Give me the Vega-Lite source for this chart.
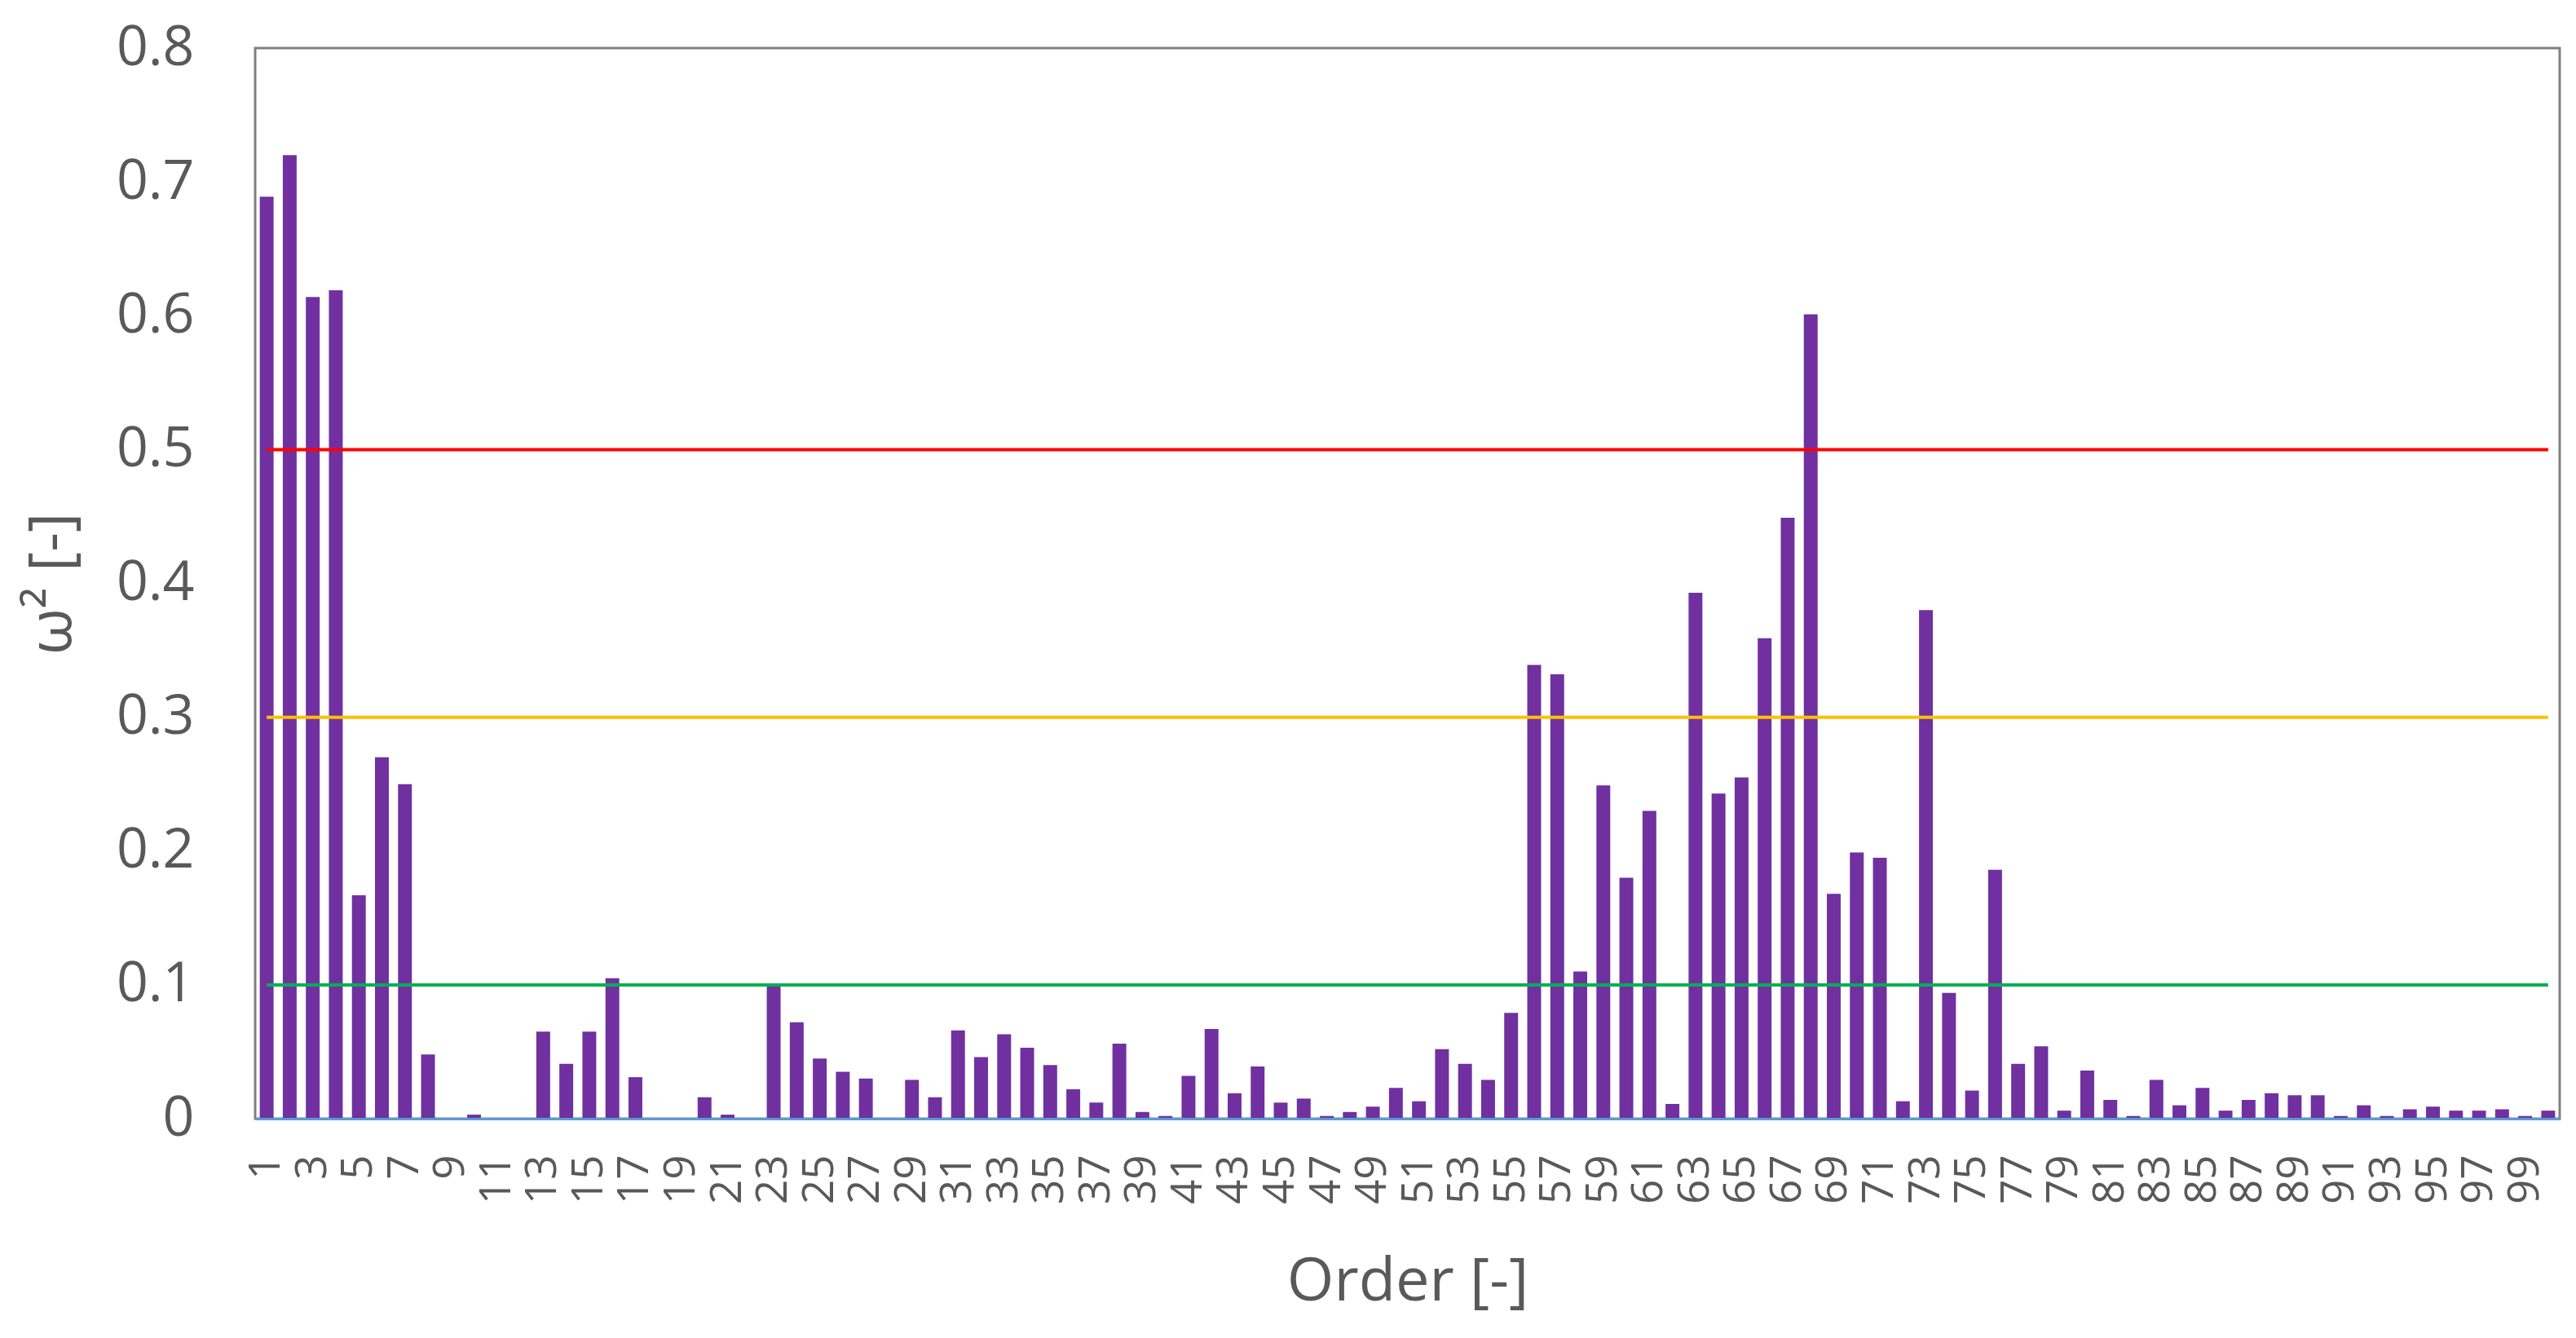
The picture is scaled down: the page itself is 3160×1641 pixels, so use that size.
{
  "$schema": "https://vega.github.io/schema/vega-lite/v6.json",
  "autosize": "none",
  "width": 2827,
  "height": 1313,
  "padding": {"left": 313, "top": 59, "right": 20, "bottom": 269},
  "background": "white",
  "config": {
    "view": {"stroke": "#808080", "strokeWidth": 3},
    "font": "Open Sans"
  },
  "datasets": {
    "bars": [
      {"Order": 1, "w2": 0.689}, {"Order": 2, "w2": 0.72}, {"Order": 3, "w2": 0.614}, {"Order": 4, "w2": 0.619},
      {"Order": 5, "w2": 0.167}, {"Order": 6, "w2": 0.27}, {"Order": 7, "w2": 0.25}, {"Order": 8, "w2": 0.048},
      {"Order": 9, "w2": 0}, {"Order": 10, "w2": 0.003}, {"Order": 11, "w2": 0}, {"Order": 12, "w2": 0},
      {"Order": 13, "w2": 0.065}, {"Order": 14, "w2": 0.041}, {"Order": 15, "w2": 0.065}, {"Order": 16, "w2": 0.105},
      {"Order": 17, "w2": 0.031}, {"Order": 18, "w2": 0}, {"Order": 19, "w2": 0}, {"Order": 20, "w2": 0.016},
      {"Order": 21, "w2": 0.003}, {"Order": 22, "w2": 0}, {"Order": 23, "w2": 0.099}, {"Order": 24, "w2": 0.072},
      {"Order": 25, "w2": 0.045}, {"Order": 26, "w2": 0.035}, {"Order": 27, "w2": 0.03}, {"Order": 28, "w2": 0},
      {"Order": 29, "w2": 0.029}, {"Order": 30, "w2": 0.016}, {"Order": 31, "w2": 0.066}, {"Order": 32, "w2": 0.046},
      {"Order": 33, "w2": 0.063}, {"Order": 34, "w2": 0.053}, {"Order": 35, "w2": 0.04}, {"Order": 36, "w2": 0.022},
      {"Order": 37, "w2": 0.012}, {"Order": 38, "w2": 0.056}, {"Order": 39, "w2": 0.005}, {"Order": 40, "w2": 0.002},
      {"Order": 41, "w2": 0.032}, {"Order": 42, "w2": 0.067}, {"Order": 43, "w2": 0.019}, {"Order": 44, "w2": 0.039},
      {"Order": 45, "w2": 0.012}, {"Order": 46, "w2": 0.015}, {"Order": 47, "w2": 0.002}, {"Order": 48, "w2": 0.005},
      {"Order": 49, "w2": 0.009}, {"Order": 50, "w2": 0.023}, {"Order": 51, "w2": 0.013}, {"Order": 52, "w2": 0.052},
      {"Order": 53, "w2": 0.041}, {"Order": 54, "w2": 0.029}, {"Order": 55, "w2": 0.079}, {"Order": 56, "w2": 0.339},
      {"Order": 57, "w2": 0.332}, {"Order": 58, "w2": 0.11}, {"Order": 59, "w2": 0.249}, {"Order": 60, "w2": 0.18},
      {"Order": 61, "w2": 0.23}, {"Order": 62, "w2": 0.011}, {"Order": 63, "w2": 0.393}, {"Order": 64, "w2": 0.243},
      {"Order": 65, "w2": 0.255}, {"Order": 66, "w2": 0.359}, {"Order": 67, "w2": 0.449}, {"Order": 68, "w2": 0.601},
      {"Order": 69, "w2": 0.168}, {"Order": 70, "w2": 0.199}, {"Order": 71, "w2": 0.195}, {"Order": 72, "w2": 0.013},
      {"Order": 73, "w2": 0.38}, {"Order": 74, "w2": 0.094}, {"Order": 75, "w2": 0.021}, {"Order": 76, "w2": 0.186},
      {"Order": 77, "w2": 0.041}, {"Order": 78, "w2": 0.054}, {"Order": 79, "w2": 0.006}, {"Order": 80, "w2": 0.036},
      {"Order": 81, "w2": 0.014}, {"Order": 82, "w2": 0.002}, {"Order": 83, "w2": 0.029}, {"Order": 84, "w2": 0.01},
      {"Order": 85, "w2": 0.023}, {"Order": 86, "w2": 0.006}, {"Order": 87, "w2": 0.014}, {"Order": 88, "w2": 0.019},
      {"Order": 89, "w2": 0.0175}, {"Order": 90, "w2": 0.0175}, {"Order": 91, "w2": 0.002}, {"Order": 92, "w2": 0.01},
      {"Order": 93, "w2": 0.002}, {"Order": 94, "w2": 0.007}, {"Order": 95, "w2": 0.009}, {"Order": 96, "w2": 0.006},
      {"Order": 97, "w2": 0.006}, {"Order": 98, "w2": 0.007}, {"Order": 99, "w2": 0.002}, {"Order": 100, "w2": 0.006}
    ],
    "limits": [
      {"Order": 1, "level": 0.5, "limit": "0.5"}, {"Order": 100, "level": 0.5, "limit": "0.5"},
      {"Order": 1, "level": 0.3, "limit": "0.3"}, {"Order": 100, "level": 0.3, "limit": "0.3"},
      {"Order": 1, "level": 0.1, "limit": "0.1"}, {"Order": 100, "level": 0.1, "limit": "0.1"}
    ]
  },
  "layer": [
    {
      "data": {"name": "bars"},
      "mark": {"type": "bar", "color": "#7030A0"},
      "encoding": {
        "x": {
          "field": "Order",
          "type": "ordinal",
          "scale": {"paddingInner": 0.4, "paddingOuter": 0.2},
          "axis": {
            "title": "Order [-]",
            "titleFont": "Open Sans",
            "titleFontSize": 74,
            "titleFontWeight": "normal",
            "titleColor": "#595959",
            "titlePadding": 60,
            "labelAngle": -90,
            "labelFontSize": 53,
            "labelColor": "#595959",
            "labelPadding": 44,
            "labelOverlap": false,
            "labelBound": false,
            "labelFlush": false,
            "labelExpr": "datum.value % 2 == 1 ? datum.label : ''",
            "ticks": false,
            "domainColor": "#5B9BD5",
            "domainWidth": 3,
            "zindex": 1
          }
        },
        "y": {
          "field": "w2",
          "type": "quantitative",
          "scale": {"domain": [0, 0.8], "nice": false},
          "axis": {
            "title": "ω² [-]",
            "titleFont": "Open Sans",
            "titleFontSize": 74,
            "titleFontWeight": "normal",
            "titleColor": "#595959",
            "titlePadding": 40,
            "values": [0, 0.1, 0.2, 0.3, 0.4, 0.5, 0.6, 0.7, 0.8],
            "labelExpr": "datum.value == 0 ? '0' : format(datum.value, '.1f')",
            "labelFontSize": 68,
            "labelColor": "#595959",
            "labelPadding": 75,
            "labelBound": false,
            "labelFlush": false,
            "ticks": false,
            "domain": false,
            "grid": false
          }
        }
      }
    },
    {
      "data": {"name": "limits"},
      "mark": {"type": "line", "strokeWidth": 4},
      "encoding": {
        "x": {"field": "Order", "type": "ordinal"},
        "y": {"field": "level", "type": "quantitative"},
        "detail": {"field": "limit"},
        "color": {
          "field": "limit",
          "type": "nominal",
          "scale": {"domain": ["0.5", "0.3", "0.1"], "range": ["#FF0000", "#FFC000", "#00B050"]},
          "legend": null
        }
      }
    }
  ]
}
